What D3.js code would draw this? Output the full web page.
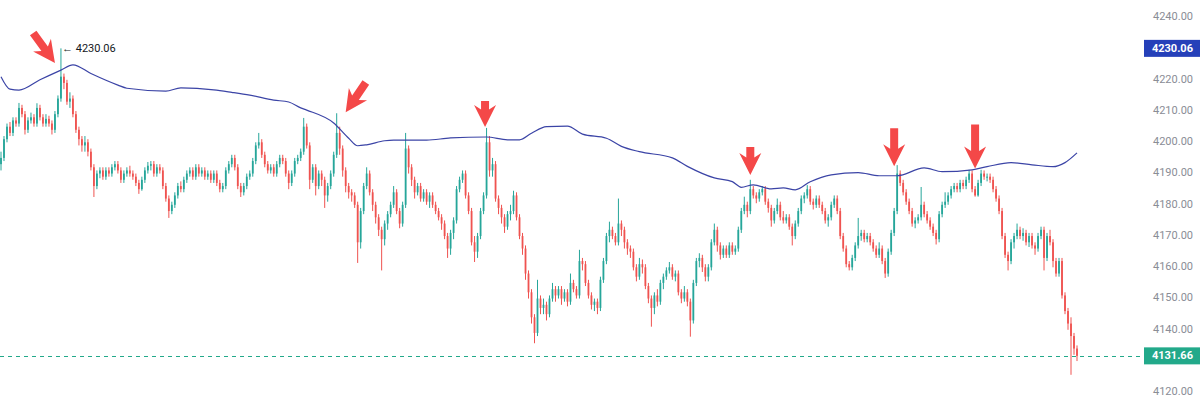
<!DOCTYPE html>
<html><head><meta charset="utf-8">
<script src="https://cdn.jsdelivr.net/npm/d3@7"></script>
<style>html,body{margin:0;padding:0;background:#fff;}svg{display:block;}</style>
</head><body>
<svg id="c" width="1200" height="402"></svg>
<script>
// ---- DATA ----
const firstOpen = 4193;
const closes = [
4195,4201,4205,4203,4207,4206,4211,4209,4204,4207,
4208,4206,4211,4208,4206,4207.5,4206,4204,4209,4214,
4221,4219,4213,4214,4209,4204,4201,4199,4200,4197,
4192,4186,4190,4191,4189,4191,4190,4192,4193,4191,
4188,4190,4191,4190,4189,4187,4185,4188,4191,4192.5,
4193,4190,4192,4191,4186,4182,4178,4180,4183,4186,
4185,4188,4190,4191,4189,4192,4190,4191,4189,4190,
4188,4190,4187,4185,4186,4191,4193,4195,4192,4186,
4184,4186,4189,4190,4194,4199,4200,4196,4193,4191,
4192,4190,4193,4195,4194,4190,4187,4190,4194,4195,
4197,4205,4199,4188,4192,4186,4190,4188,4183,4186,
4190,4196,4203,4198,4191,4186,4184,4183,4180,4168,
4178,4186,4190,4184,4180,4176,4172,4169,4174,4177,
4180,4184,4178,4174,4180,4198,4192,4188,4184,4186,
4182,4184,4181,4183,4180,4178,4176,4174,4170,4166,
4171,4175,4185,4188,4190,4183,4178,4168,4165,4170,
4178,4183,4200,4191,4193,4182,4179,4176,4173,4177,
4178,4183,4176,4170,4166,4158,4152,4144,4139,4150,
4147,4148,4145,4150,4153,4151,4153,4150,4152,4149,
4155,4153,4151,4162,4161,4155,4151,4148,4149,4147,
4156,4162,4170,4172,4170,4168,4174,4172,4168,4166,
4165,4160,4157,4161,4160,4154,4150,4147,4151,4149,
4155,4157,4159,4160,4157,4158,4152,4150,4152,4149,
4143,4155,4162,4163,4160,4157,4160,4168,4172,4167,
4164,4166,4164,4167,4165,4166,4172,4178,4180,4178,
4185,4183,4182,4184,4185,4181,4179,4175,4178,4180,
4176,4175,4176,4173,4170,4174,4178,4182,4183,4185,
4181,4180,4182,4180,4178,4175,4176,4180,4182,4178,
4170,4166,4161,4160,4163,4167,4170,4171,4169,4170,
4168,4166,4164,4166,4162,4158,4165,4171,4178,4190,
4187,4184,4181,4178,4174,4175,4176,4180,4177,4175,
4173,4171,4169,4177,4180,4181,4183,4185,4186,4185,
4187,4186,4188,4190,4185,4183,4187,4190,4189,4189,
4188,4185,4182,4178,4170,4164,4162,4168,4170,4172,
4170,4171,4168,4170,4167,4166,4170,4172,4163,4170,
4168,4162,4158,4162,4151,4146,4142,4138,4134,4131.66
];
const highs = [
4197,4202,4206,4206.5,4208,4208,4212.6,4212,4210,4208,
4209.5,4209,4212.5,4212,4209,4209,4208.5,4207,4210,4215,
4230.06,4222,4220,4216,4215,4210,4205,4202,4202,4201,
4198,4193,4191,4192,4192,4192,4192,4193,4194,4194,
4192,4191,4192,4192.5,4191,4190,4188,4189,4192,4193.7,
4194,4194,4193,4193,4192,4187,4183,4181,4184,4187,
4187.5,4189,4191,4192,4192,4193,4193,4192,4192,4191,
4191,4191,4191,4188,4187,4192,4194,4196,4196,4193,
4187,4187,4190,4191,4195,4200,4203,4201,4197,4194,
4193,4193,4194,4196,4196,4195,4191,4191,4195,4196,
4198,4207.8,4206,4200,4193,4193,4191,4191,4189,4187,
4191,4197,4209.3,4205,4199,4192,4187,4185,4184,4181,
4179,4187,4192,4191,4185,4181,4177,4173,4175,4178,
4181,4186,4185,4179,4181,4203,4199,4193,4189,4187,
4187,4185,4185,4184,4184,4181,4179,4177,4175,4171,
4172,4176,4186,4189,4191,4191,4184,4179,4170,4171,
4179,4184,4204.6,4202,4195,4194,4183,4180,4177,4178,
4180,4184.5,4184,4177,4171,4167,4159,4153,4145,4156,
4151,4150,4149,4151,4155,4154,4154,4154,4153,4153,
4158,4156,4154,4165.6,4163,4162,4156,4152,4150,4150,
4157,4163,4171,4174.6,4173,4171,4182,4175,4173,4169,
4167,4166,4161,4163,4162.5,4161,4155,4151,4152,4153,
4156,4158,4160,4161.7,4161,4159,4159,4153,4154,4153,
4150,4156,4163,4164.5,4164,4161,4161,4169,4174,4173,
4168,4167,4167,4168,4168,4167,4173,4179,4182.6,4181,
4188,4186,4184,4185,4186,4186,4182,4180,4179,4182,
4181,4178,4177,4177,4174,4175,4179,4183,4184,4186.3,
4186,4182,4183,4183,4181,4179,4177,4181,4183,4183,
4179,4171,4167,4162,4164,4168,4175.8,4172,4172,4171,
4171,4169,4167,4168,4167,4163,4166,4172,4179,4192.7,
4191,4188,4185,4182,4179,4176,4177,4185.7,4181,4178,
4176,4174,4172,4178,4181,4184,4184,4186,4187,4187,
4188,4188,4189,4191.2,4191,4186,4188,4191.2,4191,4190,
4190,4189,4186,4183,4179,4171,4165,4169,4171,4174,
4173,4172.5,4172,4171,4171,4168,4171,4173,4173,4171,
4172,4169,4163,4163,4163,4152,4147,4144,4139,4135
];
const lows = [
4191,4194,4200,4202,4202,4205,4205,4208,4202.5,4203,
4206,4205,4205,4207,4205,4205,4205,4202.5,4203,4208,
4213,4217,4212,4211,4208,4203,4199,4197,4197,4195.5,
4191,4182.5,4185,4188.5,4188,4188,4189,4189,4191,4190,
4187,4187,4189,4189,4188,4186,4183.5,4184.5,4187,4190,
4191,4189,4189,4190,4185,4181,4175.8,4177,4179,4182,
4184,4184,4187,4189,4188,4188,4189,4189,4188,4188,
4187,4187,4186,4184,4184,4185,4190,4192,4191,4185,
4182.5,4183,4185,4188,4189,4193,4198,4195,4192,4190,
4190,4189,4189,4192,4193,4189,4185,4186,4189,4193,
4194,4196,4198,4185,4187,4183,4185,4186,4179,4181,
4185,4189,4195,4196,4189,4184,4182,4181,4179,4161.4,
4166,4177,4185,4183,4178,4174,4170,4159,4167,4172,
4176,4179,4177,4172.5,4173,4179,4190,4186,4182,4183,
4181,4181,4180,4179,4179,4177,4175,4172,4169,4163,
4164,4169,4174,4184,4187,4182,4177,4167,4161.7,4163,
4169,4177,4182,4189,4189,4181,4177,4174,4171,4172,
4175,4177,4175,4169,4164,4156,4150,4142,4135.7,4138,
4145,4145,4143,4144,4149,4149,4150,4148,4149,4147.5,
4148,4152,4150,4150,4159,4154,4150,4146.5,4146,4145,
4146,4155,4161,4168,4169,4167,4167,4170,4166,4164,
4163,4159,4155.5,4156,4158,4153,4148.5,4141,4145,4147.5,
4148,4153,4156,4158,4156,4155.5,4151,4148.5,4149,4147.5,
4137.8,4142,4154,4160,4158.5,4155.5,4155.5,4159,4167,4165,
4162.5,4163,4163,4163,4164,4164,4165,4171,4177,4176,
4177,4182,4180.5,4181,4183,4180,4177.5,4173,4174,4177,
4175,4174,4174,4172,4167,4169,4173,4177,4180.5,4182,
4180,4178.5,4179,4179,4177,4174,4173,4175,4179,4177,
4169,4165,4160,4159,4159,4162,4166,4168.5,4168,4168,
4167,4165,4163,4163,4161,4156.6,4157,4164,4170,4177,
4186,4183,4180,4177,4173,4172.5,4174,4175,4176,4174,
4172,4170,4167.3,4168,4176,4179,4180,4182,4184,4184,
4184,4185,4185,4187,4184,4182.6,4182.6,4186,4188,4187.5,
4187,4184,4181,4177,4169,4163,4159,4161,4166,4169,
4169,4168.5,4167,4166.5,4166,4164,4165,4169,4159,4162,
4167,4160,4157,4157,4150,4145,4140,4125.6,4132,4130
];
// moving average line: candle index and value
const maIndex = [0,3,6,13,20,24,30,39,42,55,60,71,77,83,91,96,100,102,111,116,119,122,128,131,142,150,162,169,173,177,182,189,194,202,207,213,224,229,238,244,247,251,257,261,265,270,277,286,293,299,308,314,324,329,337,344,351,355,359];
const maValue = [4221,4217,4216.7,4220,4223.1,4224.8,4222,4218.3,4217.3,4216.4,4217.4,4216.8,4216,4215.1,4213.5,4212.9,4211,4210.3,4206.2,4201.3,4198.9,4199.2,4200.5,4200.7,4200.7,4201.4,4201.7,4200.8,4200.8,4202.9,4205,4205.2,4202.6,4201.3,4198.7,4197,4195,4192.3,4188.6,4187.4,4185.6,4186.4,4185.1,4185.4,4184.8,4187.4,4189.6,4190.3,4189.3,4189.3,4191.8,4190.6,4191.2,4192.2,4193.5,4192.8,4192.2,4193.5,4196.6];
// annotation arrows: candle index of tip, price at tip, direction angle (deg, 0 = pointing down), length
const arrowIndex = [18, 115, 161.5, 250, 298, 325];
const arrowPrice = [4225.4, 4209.6, 4204.9, 4189.5, 4192.3, 4191.6];
const arrowAngle = [-36, 34, 0, 0, 0, 0];
const arrowLength = [37, 36, 26, 28, 38, 44];
const yTicks = [4240,4230,4220,4210,4200,4190,4180,4170,4160,4150,4140,4130,4120];
const highLabel = 4230.06;
const lastLabel = 4131.66;

// ---- DRAW ----
const svg = d3.select('#c');
const N = closes.length;
const x = d3.scaleLinear().domain([0, N - 1]).range([1, 1077]);
const y = d3.scaleLinear().domain([4120, 4240]).range([392.3, 17.3]);
const opens = closes.map((c, i) => i === 0 ? firstOpen : closes[i - 1]);
const UP = '#26a69a', DOWN = '#ef5350';

// last price dashed line
svg.append('line').attr('x1', 0).attr('x2', 1144)
  .attr('y1', Math.round(y(lastLabel)) + 0.5).attr('y2', Math.round(y(lastLabel)) + 0.5)
  .attr('stroke', '#22a98a').attr('stroke-width', 1).attr('stroke-dasharray', '4,4');

// candles
const g = svg.append('g');
closes.forEach((c, i) => {
  const o = opens[i];
  const col = c >= o ? UP : DOWN;
  const cx = x(i);
  g.append('line').attr('x1', cx).attr('x2', cx)
    .attr('y1', y(highs[i])).attr('y2', y(lows[i]))
    .attr('stroke', col).attr('stroke-width', 1);
  const top = y(Math.max(o, c)), bot = y(Math.min(o, c));
  g.append('rect').attr('x', cx - 0.9).attr('width', 1.8)
    .attr('y', top).attr('height', Math.max(1, bot - top))
    .attr('fill', col);
});

// moving average
const ma = maIndex.map((d, k) => [d, maValue[k]]);
svg.append('path').datum(ma)
  .attr('d', d3.line().x(d => x(d[0])).y(d => y(d[1])).curve(d3.curveMonotoneX))
  .attr('fill', 'none').attr('stroke', '#3b44a6').attr('stroke-width', 1.2);

// arrows
arrowIndex.forEach((ai, k) => {
  const L = arrowLength[k];
  const pts = [[0,0],[-11,-22],[-4,-17.5],[-4,-L],[4,-L],[4,-17.5],[11,-22]];
  svg.append('path')
    .attr('d', d3.line()(pts) + 'Z')
    .attr('fill', '#f44848')
    .attr('transform', `translate(${x(ai)},${y(arrowPrice[k])}) rotate(${arrowAngle[k]})`);
});

// high label
svg.append('text').attr('x', 62).attr('y', y(highLabel) + 0.5)
  .attr('dominant-baseline', 'middle')
  .attr('font-family', 'Roboto, Arial, sans-serif').attr('font-size', 11)
  .attr('fill', '#131722').text('\u2190 ' + highLabel.toFixed(2));

// y axis labels
const font = 'Roboto, Arial, sans-serif';
yTicks.filter(t => Math.abs(y(t) - y(highLabel)) > 10 && Math.abs(y(t) - y(lastLabel)) > 10)
  .forEach(t => {
    svg.append('text').attr('x', 1193).attr('y', y(t))
      .attr('text-anchor', 'end').attr('dominant-baseline', 'middle')
      .attr('font-family', font).attr('font-size', 11).attr('fill', '#8a8d96')
      .text(t.toFixed(2));
  });

// price boxes
[[highLabel, '#2540b9'], [lastLabel, '#22a98a']].forEach(([v, col]) => {
  svg.append('rect').attr('x', 1144).attr('width', 56)
    .attr('y', y(v) - 8.5).attr('height', 17).attr('fill', col);
  svg.append('text').attr('x', 1193).attr('y', y(v) + 0.5)
    .attr('text-anchor', 'end').attr('dominant-baseline', 'middle')
    .attr('font-family', font).attr('font-size', 11).attr('font-weight', 'bold')
    .attr('fill', '#fff').text(v.toFixed(2));
});
</script>
</body></html>
